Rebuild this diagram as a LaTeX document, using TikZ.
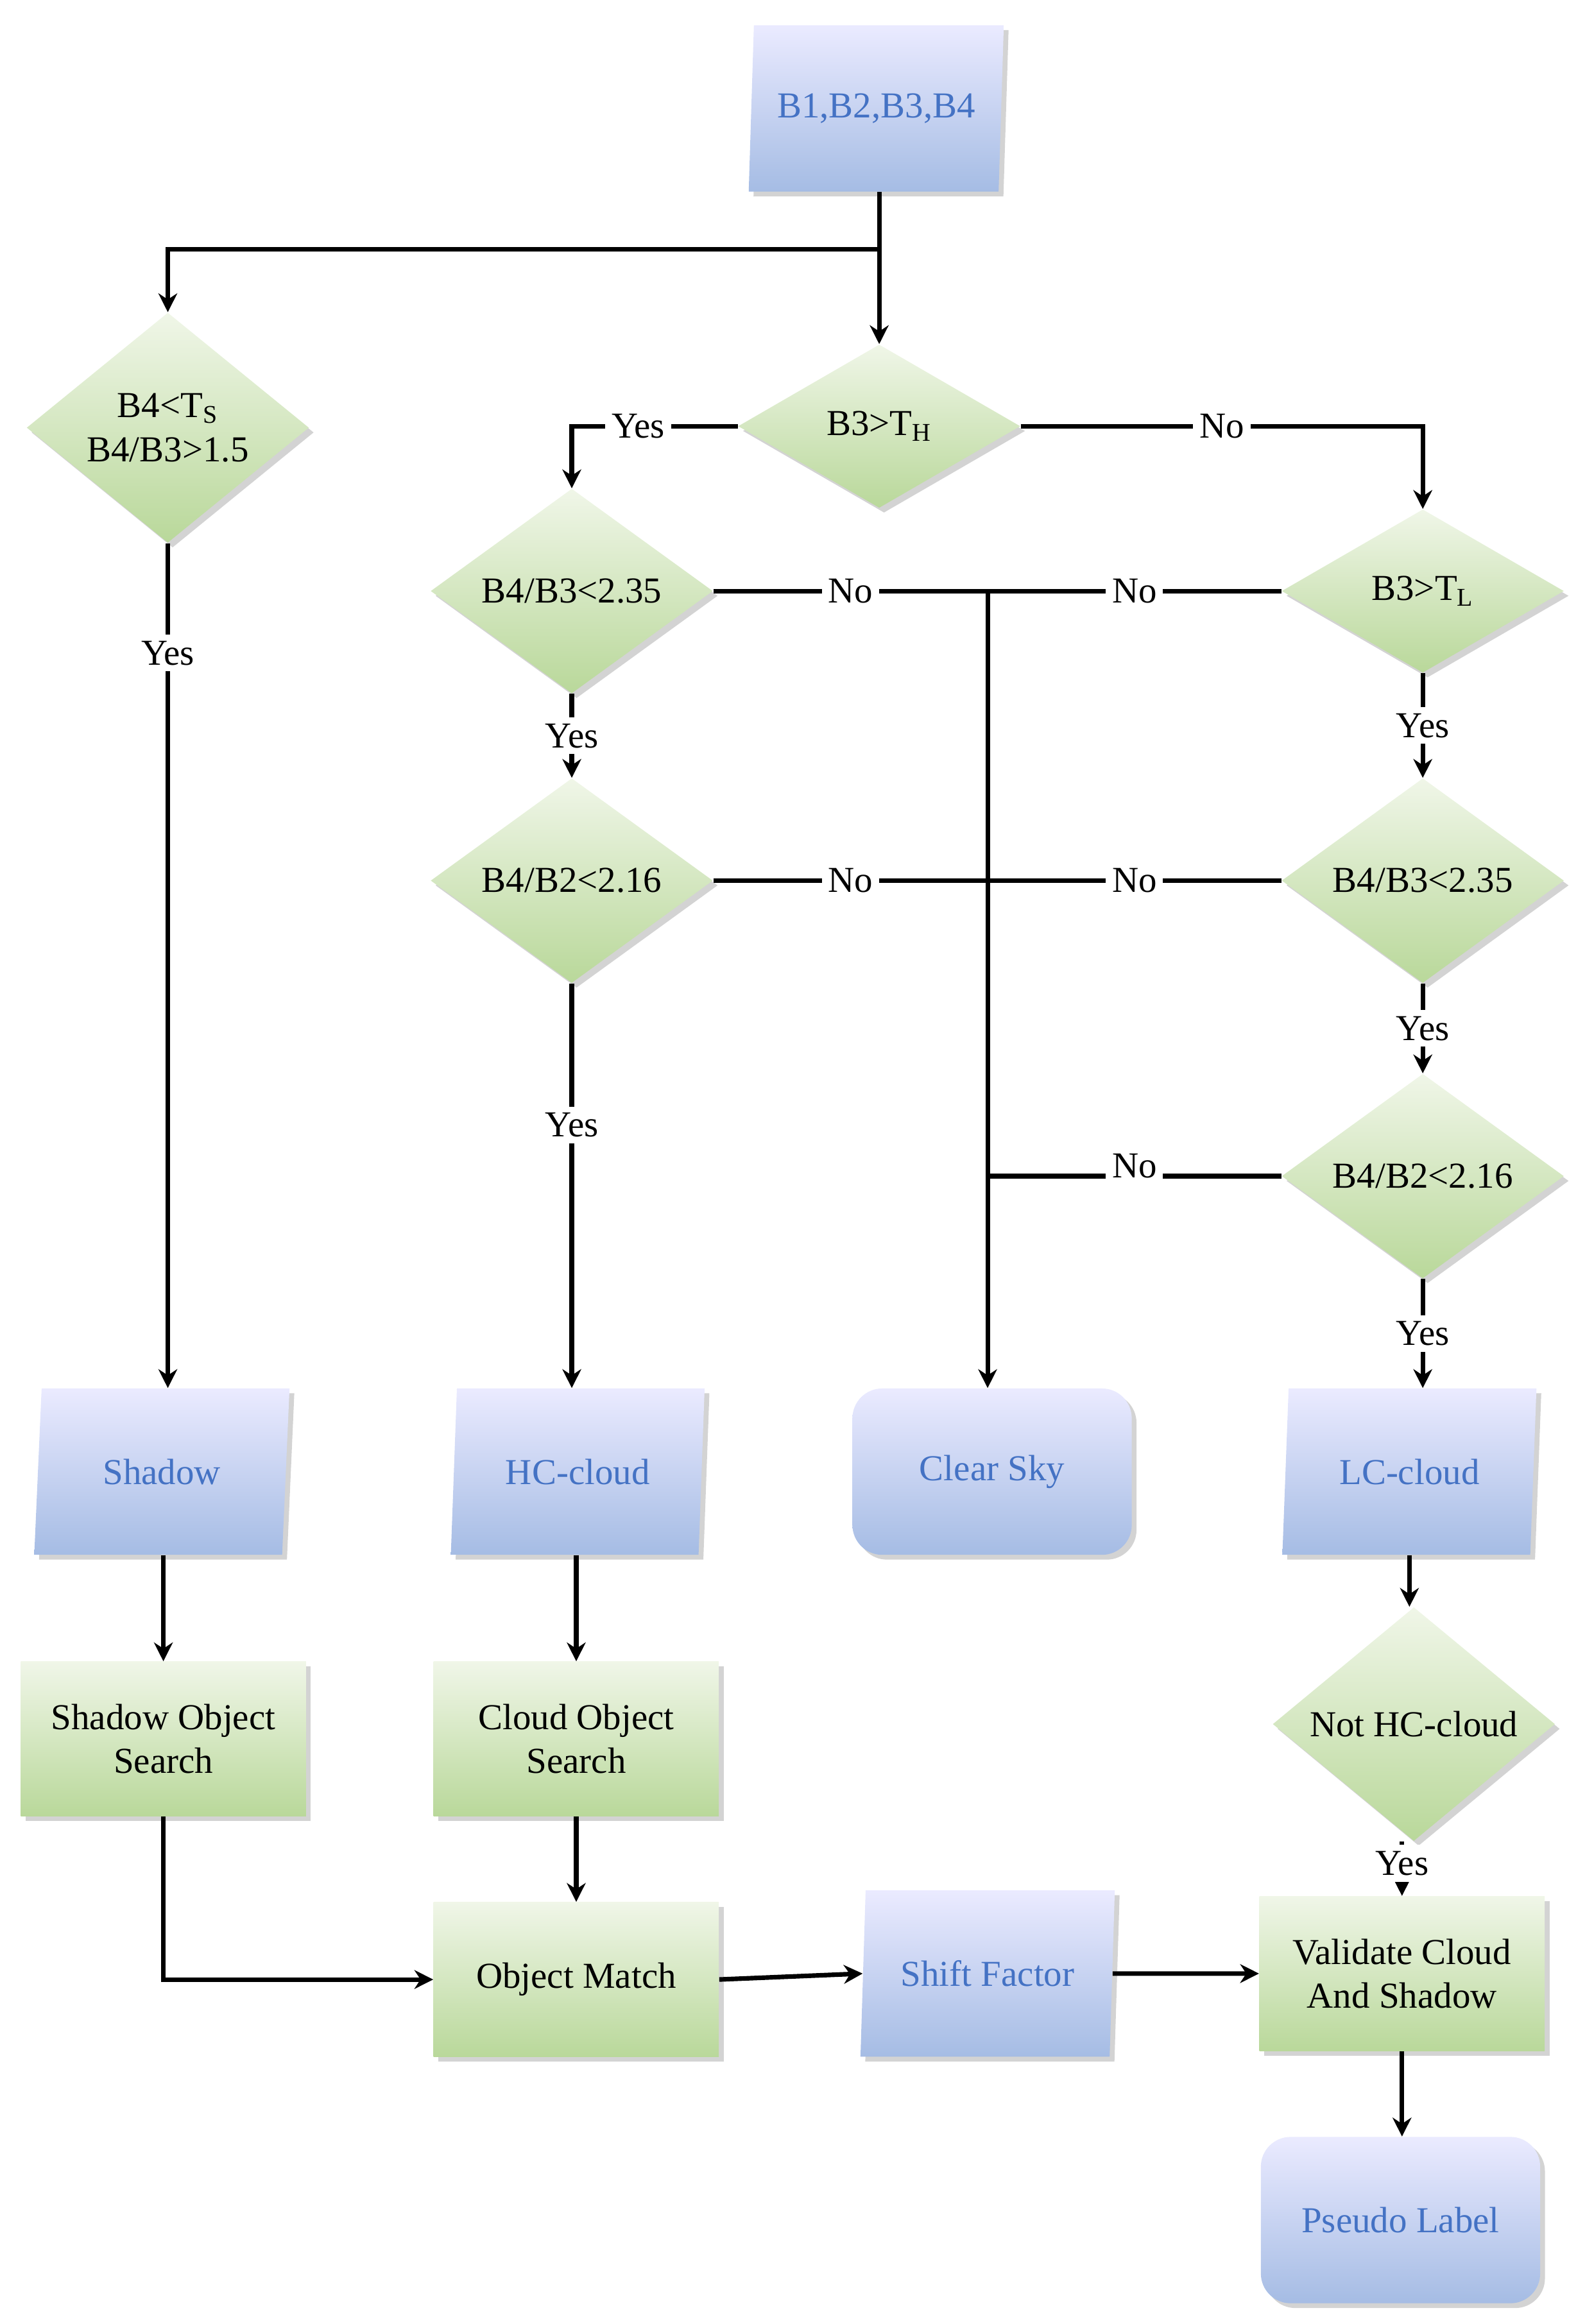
\documentclass[tikz,border=0pt]{standalone}
\usepackage{fontspec}
\setmainfont{Liberation Serif}
\usetikzlibrary{shapes.geometric,arrows.meta,shadows}
\begin{document}
\begin{tikzpicture}[x=0.025cm,y=-0.025cm,
  every node/.style={font=\fontsize{17.5}{21}\selectfont},
  para/.style={trapezium,trapezium left angle=82,trapezium right angle=98,trapezium stretches=true,
    minimum width=4.3cm,minimum height=2.8cm,inner sep=0pt,top color=blue!8!white,bottom color={rgb,255:red,165;green,188;blue,228},
    draw=none,text={rgb,255:red,68;green,114;blue,196},drop shadow={opacity=0.35}},
  rbox/.style={rectangle,rounded corners=0.5cm,minimum width=4.7cm,minimum height=2.8cm,top color=blue!8!white,bottom color={rgb,255:red,165;green,188;blue,228},
    text={rgb,255:red,68;green,114;blue,196},drop shadow={opacity=0.35}},
  gbox/.style={rectangle,minimum width=4.8cm,minimum height=2.6cm,align=center,top color={rgb,255:red,240;green,246;blue,232},bottom color={rgb,255:red,185;green,216;blue,154},drop shadow={opacity=0.35}},
  dia/.style={diamond,minimum width=4.75cm,minimum height=2.75cm,inner sep=0pt,align=center,top color={rgb,255:red,240;green,246;blue,232},bottom color={rgb,255:red,185;green,216;blue,154},drop shadow={opacity=0.35}},
  ar/.style={line width=2.2pt,-{Stealth[length=9pt,width=9pt]}},
  ln/.style={line width=2.2pt},
  lab/.style={fill=white,inner sep=3pt}]
\useasboundingbox (0,0) rectangle (1073,1565);
\node[para] (in) at (590,73) {B1,B2,B3,B4};
\node[dia] (d0) at (113,288) {B4<T\textsubscript{S}\\B4/B3>1.5};
\node[dia] (d1) at (592,287) {B3>T\textsubscript{H}};
\node[dia] (d2) at (385,398) {B4/B3<2.35};
\node[dia] (d5) at (958,398) {B3>T\textsubscript{L}};
\node[dia] (d3) at (385,593) {B4/B2<2.16};
\node[dia] (d6) at (958,593) {B4/B3<2.35};
\node[dia] (d7) at (958,792) {B4/B2<2.16};
\node[para] (sh) at (109,991) {Shadow};
\node[para] (hc) at (389,991) {HC-cloud};
\node[rbox] (cs) at (668,991) {Clear Sky};
\node[para] (lc) at (949,991) {LC-cloud};
\node[gbox] (sos) at (110,1171) {Shadow Object\\Search};
\node[gbox] (cos) at (388,1171) {Cloud Object\\Search};
\node[dia] (nhc) at (952,1161) {Not HC-cloud};
\node[gbox] (om) at (388,1333) {Object Match};
\node[para] (sf) at (665,1329) {Shift Factor};
\node[gbox] (val) at (944,1329) {Validate Cloud\\And Shadow};
\node[rbox] (pl) at (943,1495) {Pseudo Label};
\coordinate (j0) at (592,168);
\draw[ln] (in.south -| j0) -- (j0);
\draw[ar] (j0) -| (d0.north);
\draw[ar] (j0) -- (d1.north);
\draw[ar] (d1.west) -| node[lab,pos=0.3]{Yes} (d2.north);
\draw[ar] (d1.east) -| node[lab,pos=0.25]{No} (d5.north);
\draw[ar] (d0.south) -- node[lab,pos=0.13]{Yes} (sh.north -| d0);
\draw[ar] (d2.south) -- node[lab]{Yes} (d3.north);
\draw[ar] (d5.south) -- node[lab]{Yes} (d6.north);
\draw[ar] (d6.south) -- node[lab]{Yes} (d7.north);
\draw[ar] (d7.south) -- node[lab]{Yes} (lc.north -| d7);
\draw[ar] (d3.south) -- node[lab,pos=0.35]{Yes} (hc.north -| d3);
\coordinate (v0) at (665,398);
\draw[ln] (d2.east) -- node[lab]{No} (v0);
\draw[ln] (d5.west) -- node[lab]{No} (v0);
\draw[ln] (d3.east) -- node[lab]{No} (d3.east -| v0);
\draw[ln] (d6.west) -- node[lab]{No} (d6.west -| v0);
\draw[ln] (d7.west) -- node[lab,yshift=5]{No} (d7.west -| v0);
\draw[ar] (v0) -- (cs.north -| v0);
\draw[ar] (sh.south -| sos) -- (sos.north);
\draw[ar] (hc.south -| cos) -- (cos.north);
\draw[ar] (lc.south -| lc) -- (nhc.north -| lc);
\draw[ar] (sos.south) |- (om.west);
\draw[ar] (cos.south) -- (om.north);
\draw[ar] (om.east) -- (sf.west);
\draw[ar] (sf.east) -- (val.west);
\draw[ar] (nhc.south -| val) -- node[lab,pos=0.4]{Yes} (val.north);
\draw[ar] (val.south) -- (pl.north -| val);
\end{tikzpicture}
\end{document}
